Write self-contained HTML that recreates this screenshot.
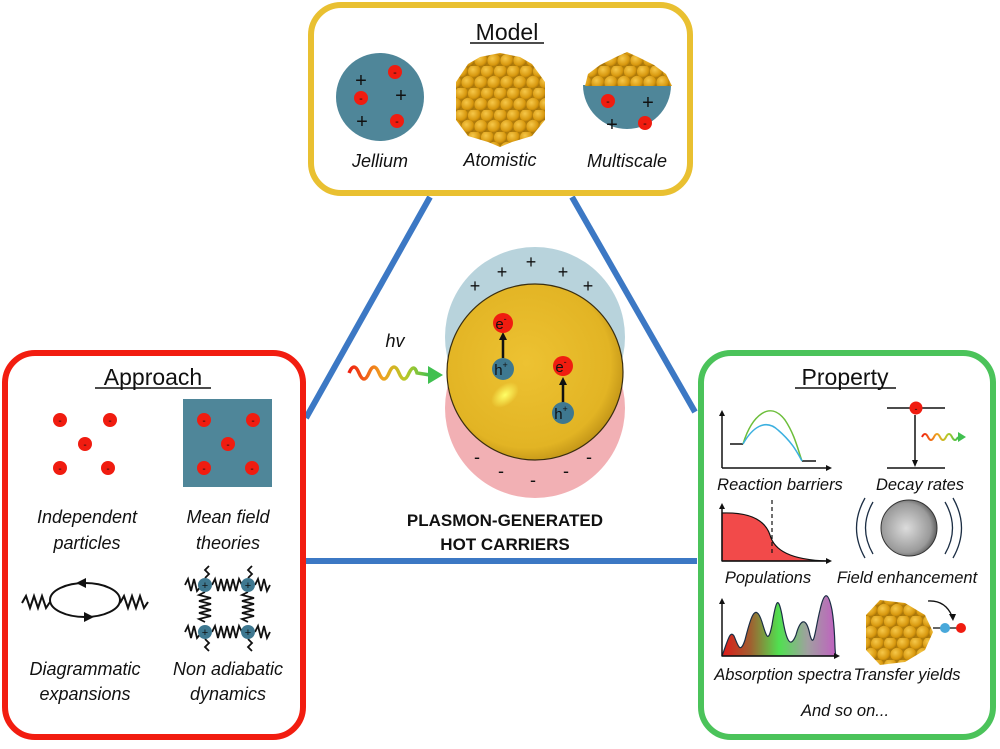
<!DOCTYPE html>
<html><head><meta charset="utf-8"><style>
html,body{margin:0;padding:0;background:#fff;}
svg text{font-family:"Liberation Sans",sans-serif;}
.it{font-style:italic;font-size:18px;fill:#111;}
.sm{font-size:16.5px;}
</style></head><body>
<svg width="1000" height="744" viewBox="0 0 1000 744" xmlns="http://www.w3.org/2000/svg">
<defs>
<radialGradient id="ball" cx="0.38" cy="0.35" r="0.7">
<stop offset="0" stop-color="#F6C84A"/><stop offset="0.7" stop-color="#D8980E"/><stop offset="1" stop-color="#9A6A08"/></radialGradient>
<pattern id="balls" x="0" y="0" width="13" height="22" patternUnits="userSpaceOnUse">
<rect width="13" height="22" fill="#B07C0A"/>
<circle cx="6.5" cy="5.5" r="6.6" fill="url(#ball)"/>
<circle cx="0" cy="16.5" r="6.6" fill="url(#ball)"/>
<circle cx="13" cy="16.5" r="6.6" fill="url(#ball)"/>
</pattern>
<radialGradient id="gold" cx="0.45" cy="0.45" r="0.6">
<stop offset="0" stop-color="#EDC232"/><stop offset="0.8" stop-color="#E2B424"/><stop offset="1" stop-color="#B98C14"/></radialGradient>
<radialGradient id="grey" cx="0.45" cy="0.5" r="0.55">
<stop offset="0" stop-color="#DCDCDC"/><stop offset="0.8" stop-color="#9A9A9A"/><stop offset="1" stop-color="#606060"/></radialGradient>
<radialGradient id="glow" cx="0.5" cy="0.5" r="0.5">
<stop offset="0" stop-color="#FFFF66"/><stop offset="1" stop-color="#FFFF66" stop-opacity="0"/></radialGradient>
<linearGradient id="rainbow" x1="0" x2="1" y1="0" y2="0">
<stop offset="0" stop-color="#F02010"/><stop offset="0.4" stop-color="#F0A020"/><stop offset="0.7" stop-color="#B8C828"/><stop offset="1" stop-color="#40C050"/></linearGradient>
<linearGradient id="spec" x1="0" x2="1" y1="0" y2="0">
<stop offset="0" stop-color="#E01818"/><stop offset="0.25" stop-color="#A06030"/><stop offset="0.5" stop-color="#50E050"/><stop offset="0.75" stop-color="#A0A0A0"/><stop offset="1" stop-color="#C060C0"/></linearGradient>
</defs>

<g stroke="#3C78C4" stroke-width="6" fill="none">
<line x1="430" y1="197" x2="306" y2="418"/>
<line x1="572" y1="197" x2="695" y2="412"/>
<line x1="306" y1="561" x2="697" y2="561"/>
</g>

<rect x="311" y="5" width="379" height="188" rx="30" fill="#fff" stroke="#E9C031" stroke-width="6"/>
<text x="507" y="40" text-anchor="middle" font-size="23" fill="#111">Model</text>
<line x1="470" y1="43" x2="544" y2="43" stroke="#111" stroke-width="1.5"/>
<circle cx="380" cy="97" r="44" fill="#4F8699"/>
<g font-size="20" fill="#111" text-anchor="middle">
<text x="361" y="87">+</text><text x="401" y="102">+</text><text x="362" y="128">+</text>
</g>
<g fill="#F01C10"><circle cx="395" cy="72" r="7"/><circle cx="361" cy="98" r="7"/><circle cx="397" cy="121" r="7"/></g>
<g font-size="11" fill="#111" text-anchor="middle"><text x="395" y="76">-</text><text x="361" y="102">-</text><text x="397" y="125">-</text></g>
<polygon points="500,53 520,57 532,64 545,82 545,120 532,136 512,142 500,147 488,142 468,136 456,120 456,82 468,64 480,57" fill="url(#balls)"/>
<path d="M583,85 A44,44 0 0 0 671,85 Z" fill="#4F8699"/>
<polygon points="585,86 588,74 600,65 616,57 627,52 638,57 654,65 666,74 672,86" fill="url(#balls)"/>
<g fill="#F01C10"><circle cx="608" cy="101" r="7"/><circle cx="645" cy="123" r="7"/></g>
<g font-size="11" fill="#111" text-anchor="middle"><text x="608" y="105">-</text><text x="645" y="127">-</text></g>
<g font-size="20" fill="#111" text-anchor="middle"><text x="648" y="109">+</text><text x="612" y="131">+</text></g>
<text class="it" x="380" y="167" text-anchor="middle" font-size="19">Jellium</text>
<text class="it" x="500" y="166" text-anchor="middle" font-size="19">Atomistic</text>
<text class="it" x="627" y="167" text-anchor="middle" font-size="19">Multiscale</text>

<rect x="5" y="353" width="298" height="384" rx="30" fill="#fff" stroke="#F21D10" stroke-width="6"/>
<text x="153" y="385" text-anchor="middle" font-size="23" fill="#111">Approach</text>
<line x1="95" y1="388" x2="211" y2="388" stroke="#111" stroke-width="1.5"/>
<rect x="183" y="399" width="89" height="88" fill="#4F8699"/>
<g fill="#F01C10">
<circle cx="60" cy="420" r="7"/><circle cx="110" cy="420" r="7"/><circle cx="85" cy="444" r="7"/><circle cx="60" cy="468" r="7"/><circle cx="108" cy="468" r="7"/>
<circle cx="204" cy="420" r="7"/><circle cx="253" cy="420" r="7"/><circle cx="228" cy="444" r="7"/><circle cx="204" cy="468" r="7"/><circle cx="252" cy="468" r="7"/>
</g>
<g font-size="10" fill="#111" text-anchor="middle">
<text x="60" y="424">-</text><text x="110" y="424">-</text><text x="85" y="448">-</text><text x="60" y="472">-</text><text x="108" y="472">-</text>
<text x="204" y="424">-</text><text x="253" y="424">-</text><text x="228" y="448">-</text><text x="204" y="472">-</text><text x="252" y="472">-</text>
</g>
<text class="it" x="87" y="523" text-anchor="middle">Independent</text>
<text class="it" x="87" y="549" text-anchor="middle">particles</text>
<text class="it" x="228" y="523" text-anchor="middle">Mean field</text>
<text class="it" x="228" y="549" text-anchor="middle">theories</text>
<g fill="none" stroke="#111" stroke-width="2">
<ellipse cx="85" cy="600" rx="35" ry="17"/>
<path d="M22,603 l4,-7 l4,12 l4,-12 l4,12 l4,-12 l4,12 l4,-6"/>
<path d="M120,603 l4,-7 l4,12 l4,-12 l4,12 l4,-12 l4,12 l4,-6"/>
</g>
<polygon points="76,583 86,578 86,588" fill="#111"/>
<polygon points="94,617 84,612 84,622" fill="#111"/>
<g fill="none" stroke="#111" stroke-width="1.8">
<path d="M212,585 l3,-6 l3,12 l3,-12 l3,12 l3,-12 l3,12 l3,-12 l3,12 l3,-12 l3,6"/>
<path d="M212,632 l3,-6 l3,12 l3,-12 l3,12 l3,-12 l3,12 l3,-12 l3,12 l3,-12 l3,6"/>
<path d="M205,592 l-6,3 l12,3 l-12,3 l12,3 l-12,3 l12,3 l-12,3 l12,3 l-12,3 l6,3"/>
<path d="M248,592 l-6,3 l12,3 l-12,3 l12,3 l-12,3 l12,3 l-12,3 l12,3 l-12,3 l6,3"/>
<path d="M185,585 l3,-6 l3,12 l3,-12 l3,12 l5,-6"/><path d="M255,585 l3,-6 l3,12 l3,-12 l3,12 l3,-6"/>
<path d="M185,632 l3,-6 l3,12 l3,-12 l3,12 l5,-6"/><path d="M255,632 l3,-6 l3,12 l3,-12 l3,12 l3,-6"/>
<path d="M205,578 l4,-4 l-4,-4 l4,-4"/><path d="M248,578 l4,-4 l-4,-4 l4,-4"/>
<path d="M205,639 l4,4 l-4,4 l4,4"/><path d="M248,639 l4,4 l-4,4 l4,4"/>
</g>
<g fill="#3E7890"><circle cx="205" cy="585" r="7"/><circle cx="248" cy="585" r="7"/><circle cx="205" cy="632" r="7"/><circle cx="248" cy="632" r="7"/></g>
<g font-size="11" fill="#111" text-anchor="middle"><text x="205" y="589">+</text><text x="248" y="589">+</text><text x="205" y="636">+</text><text x="248" y="636">+</text></g>
<text class="it" x="85" y="675" text-anchor="middle">Diagrammatic</text>
<text class="it" x="85" y="700" text-anchor="middle">expansions</text>
<text class="it" x="228" y="675" text-anchor="middle">Non adiabatic</text>
<text class="it" x="228" y="700" text-anchor="middle">dynamics</text>

<rect x="701" y="353" width="292" height="384" rx="30" fill="#fff" stroke="#4BC35A" stroke-width="6"/>
<text x="845" y="385" text-anchor="middle" font-size="23" fill="#111">Property</text>
<line x1="795" y1="388" x2="896" y2="388" stroke="#111" stroke-width="1.5"/>
<g stroke="#111" stroke-width="1.5" fill="none">
<path d="M722,468 V414 M722,468 H828"/>
<path d="M730,444 H743 M802,461 H816"/>
</g>
<polygon points="722,410 719,416 725,416" fill="#111"/><polygon points="832,468 826,465 826,471" fill="#111"/>
<path d="M743,444 C752,415 770,400 785,420 C795,435 798,450 802,461" fill="none" stroke="#6CBE3A" stroke-width="1.5"/>
<path d="M743,444 C752,428 765,418 778,430 C792,442 797,452 802,461" fill="none" stroke="#3CB0E0" stroke-width="1.5"/>
<text class="it sm" x="780" y="490" text-anchor="middle">Reaction barriers</text>
<g stroke="#111" stroke-width="1.5"><line x1="887" y1="408" x2="945" y2="408"/><line x1="887" y1="468" x2="945" y2="468"/><line x1="915" y1="415" x2="915" y2="462"/></g>
<polygon points="915,467 912,460 918,460" fill="#111"/>
<circle cx="916" cy="408" r="6.5" fill="#F01C10"/><text x="916" y="412" font-size="9" text-anchor="middle" fill="#111">-</text>
<path d="M922,437 q3,-6 6,0 q3,6 6,0 q3,-6 6,0 q3,6 6,0 q3,-6 6,0 q3,6 6,0" fill="none" stroke="url(#rainbow)" stroke-width="2"/>
<polygon points="958,432 966,437 958,442" fill="#40C050"/>
<text class="it sm" x="920" y="490" text-anchor="middle">Decay rates</text>
<path d="M722,513 C750,512 765,520 770,535 C774,550 790,560 828,561 L722,561 Z" fill="#F24A4A" stroke="#111" stroke-width="1.2"/>
<g stroke="#111" stroke-width="1.5" fill="none"><path d="M722,561 V507 M722,561 H828"/></g>
<polygon points="722,503 719,509 725,509" fill="#111"/><polygon points="832,561 826,558 826,564" fill="#111"/>
<line x1="772" y1="500" x2="772" y2="556" stroke="#111" stroke-width="1.2" stroke-dasharray="4,3"/>
<text class="it sm" x="768" y="583" text-anchor="middle">Populations</text>
<circle cx="909" cy="528" r="28" fill="url(#grey)" stroke="#333" stroke-width="1"/>
<g fill="none" stroke="#1C2E44" stroke-width="1.3">
<path d="M873,502 Q858,528 873,554"/><path d="M865,498 Q848,528 865,558"/>
<path d="M945,502 Q960,528 945,554"/><path d="M953,498 Q970,528 953,558"/>
</g>
<text class="it sm" x="907" y="583" text-anchor="middle">Field enhancement</text>
<path d="M722,656 C728,640 730,630 734,636 C738,645 740,655 745,640 C750,620 755,600 762,622 C766,635 768,645 772,625 C776,600 778,595 782,615 C786,640 790,650 796,635 C800,620 806,615 810,635 C814,650 815,630 820,610 C824,592 828,590 832,610 C836,635 834,650 836,656 Z" fill="url(#spec)" stroke="#1C2E44" stroke-width="1.2"/>
<g stroke="#111" stroke-width="1.5" fill="none"><path d="M722,656 V602 M722,656 H836"/></g>
<polygon points="722,598 719,604 725,604" fill="#111"/><polygon points="840,656 834,653 834,659" fill="#111"/>
<text class="it sm" x="783" y="680" text-anchor="middle">Absorption spectra</text>
<polygon points="880,600 905,603 925,615 933,632 925,650 905,662 880,665 866,650 866,615" fill="url(#balls)"/>
<line x1="933" y1="628" x2="961" y2="628" stroke="#333" stroke-width="1.5"/>
<circle cx="945" cy="628" r="5" fill="#48A8DA"/><circle cx="961" cy="628" r="5" fill="#F01C10"/>
<path d="M928,601 Q945,600 952,616" fill="none" stroke="#111" stroke-width="1.3"/>
<polygon points="953,621 949,614 956,614" fill="#111"/>
<text class="it sm" x="907" y="680" text-anchor="middle">Transfer yields</text>
<text class="it sm" x="845" y="716" text-anchor="middle">And so on...</text>

<circle cx="535" cy="408" r="90" fill="#F2B0B4"/>
<circle cx="535" cy="337" r="90" fill="#B8D3DC"/>
<circle cx="535" cy="372" r="88" fill="url(#gold)" stroke="#3A2E10" stroke-width="1.2"/>
<ellipse cx="505" cy="395" rx="16" ry="10" transform="rotate(-40 505 395)" fill="url(#glow)"/>
<g font-size="18" fill="#111" text-anchor="middle">
<text x="475" y="292">+</text><text x="502" y="278">+</text><text x="531" y="268">+</text><text x="563" y="278">+</text><text x="588" y="292">+</text>
<text x="477" y="463">-</text><text x="501" y="477">-</text><text x="533" y="486">-</text><text x="566" y="477">-</text><text x="589" y="463">-</text>
</g>
<line x1="503" y1="358" x2="503" y2="338" stroke="#111" stroke-width="2.5"/>
<polygon points="503,332 499,340 507,340" fill="#111"/>
<line x1="563" y1="403" x2="563" y2="383" stroke="#111" stroke-width="2.5"/>
<polygon points="563,377 559,385 567,385" fill="#111"/>
<circle cx="503" cy="323" r="10" fill="#F01C10"/><text x="501" y="329" font-size="15" text-anchor="middle" fill="#111">e<tspan font-size="9" dy="-7">-</tspan></text>
<circle cx="563" cy="366" r="10" fill="#F01C10"/><text x="561" y="372" font-size="15" text-anchor="middle" fill="#111">e<tspan font-size="9" dy="-7">-</tspan></text>
<circle cx="503" cy="369" r="11" fill="#3E7890"/><text x="501" y="375" font-size="15" text-anchor="middle" fill="#111">h<tspan font-size="9" dy="-7">+</tspan></text>
<circle cx="563" cy="413" r="11" fill="#3E7890"/><text x="561" y="419" font-size="15" text-anchor="middle" fill="#111">h<tspan font-size="9" dy="-7">+</tspan></text>
<text class="it" x="395" y="347" text-anchor="middle" font-size="18">hv</text>
<path d="M349,373 q5,-12 10,0 q5,12 10,0 q5,-12 10,0 q5,12 10,0 q5,-12 10,0 q5,12 10,0 q5,-10 8,0 L430,375" fill="none" stroke="url(#rainbow)" stroke-width="3.5"/>
<polygon points="428,366 443,375 428,384" fill="#40C050"/>
<text x="505" y="526" text-anchor="middle" font-size="17" font-weight="bold" fill="#111">PLASMON-GENERATED</text>
<text x="505" y="550" text-anchor="middle" font-size="17" font-weight="bold" fill="#111">HOT CARRIERS</text>
</svg>
</body></html>
